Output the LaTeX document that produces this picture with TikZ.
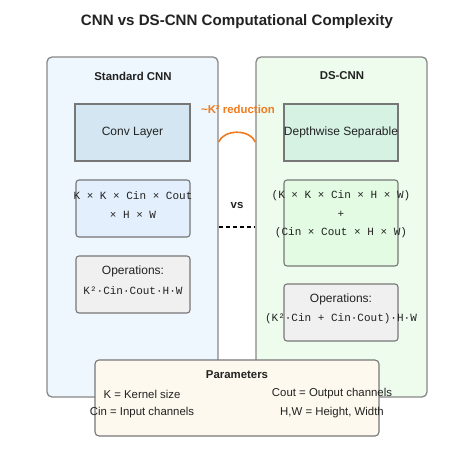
\documentclass[tikz,border=0pt]{standalone}
\usepackage{fontspec}
\setmainfont{Liberation Sans}
\newfontfamily\monofont{Liberation Mono}
\definecolor{panelL}{HTML}{EEF6FE}
\definecolor{panelR}{HTML}{EEFCEE}
\definecolor{convfill}{HTML}{D4E6F1}
\definecolor{dwfill}{HTML}{D5F2E3}
\definecolor{formL}{HTML}{E3EFFC}
\definecolor{formR}{HTML}{E2FBE2}
\definecolor{opsfill}{HTML}{F0F0F0}
\definecolor{parfill}{HTML}{FEF9EE}
\definecolor{edge}{HTML}{888888}
\definecolor{boxedge}{HTML}{777777}
\definecolor{txt}{HTML}{222222}
\definecolor{orng}{HTML}{F07B1E}
\begin{document}
\begin{tikzpicture}[x=1pt,y=-1pt,
  panel/.style={draw=edge,line width=1.3pt,rounded corners=5pt,minimum width=171pt,minimum height=340pt,inner sep=0pt},
  sqbox/.style={draw=boxedge,line width=1.1pt,minimum width=114pt,minimum height=57pt,inner sep=0pt},
  rbox/.style={draw=boxedge,line width=1.1pt,rounded corners=3pt,minimum width=114pt,minimum height=57pt,inner sep=0pt},
  ttl/.style={font=\bfseries\fontsize{11.4}{14}\selectfont,text=txt},
  lbl/.style={font=\fontsize{12}{14}\selectfont,text=txt,inner sep=0pt},
  plbl/.style={font=\fontsize{11.4}{14}\selectfont,text=txt,inner sep=0pt},
  mono/.style={font=\monofont\fontsize{11}{18.5}\selectfont,text=txt,align=center,inner sep=0pt}]
\useasboundingbox[fill=white] (0,0) rectangle (474,474);
\node[font=\bfseries\fontsize{15.1}{18}\selectfont,text=txt] (title) at (237,22) {CNN vs DS-CNN Computational Complexity};
% panels
\node[panel,fill=panelL] (pl) at (132.5,227) {};
\node[panel,fill=panelR] (pr) at (341.5,227) {};
\node[ttl] (tl) at (133,76) {Standard CNN};
\node[ttl] (tr) at (342,76) {DS-CNN};
% left column
\node[sqbox,fill=convfill,minimum width=115pt] (conv) at (132.5,132.5) {};
\node[lbl] (convt) at (conv.center) {Conv Layer};
\node[rbox,fill=formL] (fl) at (133,208.5) {};
\node[mono] (flt) at (133,205) {K × K × Cin × Cout\\× H × W};
\node[rbox,fill=opsfill] (ol) at (133,284.5) {};
\node[lbl] (olt1) at (133,271) {Operations:};
\node[mono] (olt2) at (133,291) {K²·Cin·Cout·H·W};
% right column
\node[sqbox,fill=dwfill] (dw) at (341,132.5) {};
\node[lbl] (dwt) at (dw.center) {Depthwise Separable};
\node[rbox,fill=formR,minimum height=86pt] (fr) at (341,223) {};
\node[mono] (frt) at (341,214.5) {(K × K × Cin × H × W)\\+\\(Cin × Cout × H × W)};
\node[rbox,fill=opsfill] (or) at (341,312.5) {};
\node[lbl] (ort1) at (341,299) {Operations:};
\node[mono] (ort2) at (341,319) {(K²·Cin + Cin·Cout)·H·W};
% middle
\node[font=\bfseries\fontsize{11.4}{14}\selectfont,text=orng] (red) at (238,109) {\textasciitilde K² reduction};
\coordinate (a1) at (pl.east |- 0,142);
\coordinate (a2) at (pr.west |- 0,142);
\draw[orng,line width=1.6pt] (a1) .. controls (224,129) and (250,129) .. (a2);
\node[ttl] (vs) at (237,205) {vs};
\coordinate (d1) at (pl.east |- 0,227);
\coordinate (d2) at (pr.west |- 0,227);
\draw[black,line width=1.5pt,dash pattern=on 4pt off 3pt] (d1) -- (d2);
% parameters
\node[draw=boxedge,line width=1.1pt,rounded corners=4pt,fill=parfill,minimum width=284pt,minimum height=76pt,inner sep=0pt] (par) at (237,398) {};
\node[ttl] (part) at (237,375) {Parameters};
\node[plbl] (p1) at (142,394) {K = Kernel size};
\node[plbl] (p2) at (332,394) {Cout = Output channels};
\node[plbl] (p3) at (142,413) {Cin = Input channels};
\node[plbl] (p4) at (332,413) {H,W = Height, Width};
\end{tikzpicture}
\end{document}
